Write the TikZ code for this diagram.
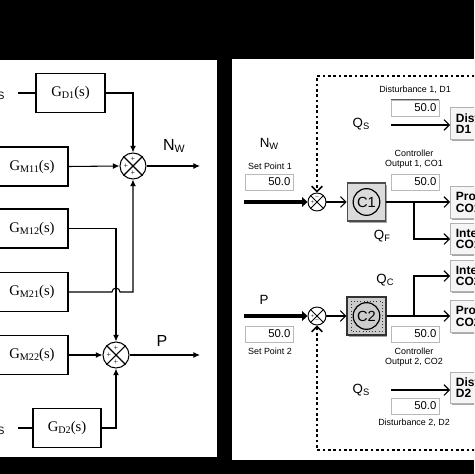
\documentclass[tikz,border=0pt]{standalone}
\usepackage{fontspec}
\setmainfont{Liberation Serif}
\setsansfont{Liberation Sans}
\usetikzlibrary{arrows.meta,shadows}
\newcommand\gsub[1]{G\raisebox{-0.35ex}{\fontsize{7.6}{8}\selectfont #1}(s)}
\newcommand\sbx[3]{#1\raisebox{-0.3ex}{\fontsize{#3}{#3}\selectfont #2}}
\begin{document}
\begin{tikzpicture}[x=0.75pt,y=-0.75pt,
  lw/.style={line width=0.8pt},
  gbox/.style={draw, line width=0.8pt, fill=white, minimum height=29.25pt, inner sep=0pt, font=\fontsize{11}{12}\selectfont},
  sumL/.style={circle, draw, line width=0.8pt, minimum size=19.5pt, inner sep=0pt},
  sumR/.style={circle, draw, line width=0.7pt, minimum size=13.5pt, inner sep=0pt},
  arrL/.style={-{Latex[length=5pt,width=4.5pt]}},
  arrR/.style={-{Straight Barb[length=4pt,width=8pt]}},
  thick arrow/.style={line width=3pt,-{Triangle[length=4pt,width=7pt]}},
  pm/.style={font=\fontsize{6}{6}\selectfont, inner sep=0pt},
  pmR/.style={font=\fontsize{5}{5}\selectfont, inner sep=0pt},
  field/.style={draw=gray!55, fill=white, minimum width=36pt, minimum height=12pt, text width=32pt, align=right, inner sep=1.5pt,
    font=\sffamily\fontsize{8.5}{9}\selectfont,
    path picture={\draw[gray!70!black,line width=1.2pt] (path picture bounding box.south west) -- (path picture bounding box.north west) -- (path picture bounding box.north east);}},
  small/.style={font=\sffamily\fontsize{6.7}{7.7}\selectfont, inner sep=0pt, align=center},
  lab/.style={font=\sffamily\fontsize{10}{10}\selectfont, inner sep=0pt},
  cbox/.style={draw=gray!60!black, line width=0.8pt, fill=gray!28, minimum width=29pt, minimum height=28.5pt,
    drop shadow={shadow xshift=1.2pt, shadow yshift=-1.2pt, fill=gray!70, opacity=1}},
  ccirc/.style={circle, draw, line width=0.9pt, minimum size=20pt, inner sep=0pt, font=\sffamily\fontsize{11}{11}\selectfont},
  pbox/.style={draw=gray!60, line width=0.8pt, fill=gray!8, minimum width=80pt, minimum height=23.5pt, text width=72pt,
    align=left, inner xsep=4pt, inner ysep=2pt, font=\sffamily\bfseries\fontsize{9}{8.5}\selectfont,
    drop shadow={shadow xshift=1.2pt, shadow yshift=-1.2pt, fill=gray!70, opacity=1}},
  dashline/.style={line width=1.1pt, dash pattern=on 2pt off 2pt}
]
\useasboundingbox (0,0) rectangle (474,474);
\fill[black] (0,0) rectangle (474,474);
\fill[white] (0,60) rectangle (217,457);
\fill[white] (232,59) rectangle (474,460);

% ---------------- left panel ----------------
\begin{scope}
\clip (0,60) rectangle (217,457);
\node[gbox, minimum width=51.75pt] (gd1) at (70.5,93) {\gsub{D1}};
\node[gbox, minimum width=54pt] (gm11) at (32,166.5) {\gsub{M11}};
\node[gbox, minimum width=54pt] (gm12) at (32,228.5) {\gsub{M12}};
\node[gbox, minimum width=54pt] (gm21) at (32,292) {\gsub{M21}};
\node[gbox, minimum width=54pt] (gm22) at (32,355) {\gsub{M22}};
\node[gbox, minimum width=51pt] (gd2) at (67,428) {\gsub{D2}};

\node[sumL] (s1) at (133,166) {};
\draw[lw] (s1.north west) -- (s1.south east) (s1.north east) -- (s1.south west);
\node[pm] (s1a) at (133,159) {+};
\node[pm] (s1b) at (126,166) {+};
\node[pm] (s1c) at (133,173) {+};

\node[sumL] (s2) at (116,355) {};
\draw[lw] (s2.north west) -- (s2.south east) (s2.north east) -- (s2.south west);
\node[pm] (s2a) at (116,348) {+};
\node[pm] (s2b) at (109,355) {+};
\node[pm] (s2c) at (116,362) {+};

\coordinate (inD1) at (18,93);
\coordinate (inD2) at (18,428);
\coordinate (outN) at (200,166);
\coordinate (outP) at (200,355);
\node[font=\sffamily\fontsize{8}{8}\selectfont, inner sep=0pt] (qs1) at (1,96) {S};
\node[font=\sffamily\fontsize{8}{8}\selectfont, inner sep=0pt] (qs2) at (1,431) {S};

\draw[lw] (inD1) -- (gd1.west);
\draw[lw] (inD2) -- (gd2.west);
\draw[lw, arrL] (gd1.east) -| (s1.north);
\draw[lw, arrL] (gm11.east) -- (s1.west);
\draw[lw, arrL] (s1.east) -- (outN);
\draw[lw, arrL] (gm12.east) -| (s2.north);
\draw[lw, arrL] (gm21.east) -- (112,292) arc[start angle=180,end angle=360,radius=4] -| (s1.south);
\draw[lw, arrL] (gm22.east) -- (s2.west);
\draw[lw, arrL] (gd2.east) -| (s2.south);
\draw[lw, arrL] (s2.east) -- (outP);

\node[font=\sffamily\fontsize{12}{12}\selectfont, inner sep=0pt] (nwL) at (174,146) {\sbx{N}{W}{8}};
\node[font=\sffamily\fontsize{12}{12}\selectfont, inner sep=0pt] (pL) at (162,341) {P};
\end{scope}

% ---------------- right panel ----------------
\begin{scope}
\clip (232,59) rectangle (474,460);
\coordinate (dtop) at (480,76);
\coordinate (dbot) at (480,450);
\coordinate (sp1in) at (244,202);
\coordinate (sp2in) at (244,316);
\coordinate (qsin1) at (391,125);
\coordinate (qsin2) at (391,390);

\node[lab] (nwR) at (269,144) {\sbx{N}{W}{7}};
\node[small] (sp1lab) at (270,166) {Set Point 1};
\node[field] (sp1) at (269,182) {50.0};
\node[sumR] (r1) at (317,202) {};
\draw[line width=0.7pt] (r1.north west) -- (r1.south east) (r1.north east) -- (r1.south west);
\node[pmR] (r1p) at (312.5,202.5) {+};
\node[pmR] (r1m) at (317,197.5) {--};

\node[lab] (pR) at (264,300) {P};
\node[field] (sp2) at (269,334) {50.0};
\node[small] (sp2lab) at (270,351) {Set Point 2};
\node[sumR] (r2) at (317,316) {};
\draw[line width=0.7pt] (r2.north west) -- (r2.south east) (r2.north east) -- (r2.south west);
\node[pmR] (r2p) at (312.5,316.5) {+};
\node[pmR] (r2m) at (317,321) {--};

\node[cbox] (c1) at (366.5,202) {};
\node[ccirc] (c1c) at (366.5,202) {C1};
\node[cbox, draw=gray!40!black, line width=1.3pt, fill=gray!40] (c2) at (366.5,316) {};
\draw[dotted, gray!40!black] (351,301) rectangle (382,331);
\node[ccirc, fill=gray!40] (c2c) at (366.5,316) {C2};

\node[small] (d1lab) at (415,90) {Disturbance 1, D1};
\node[field] (d1) at (415,108) {50.0};
\node[lab] (qs1R) at (361,124) {\sbx{Q}{S}{7}};
\node[small] (co1lab) at (414,159.5) {Controller\\Output 1, CO1};
\node[field] (co1) at (415,182) {50.0};
\node[lab] (qfR) at (382,236) {\sbx{Q}{F}{7}};
\node[lab] (qcR) at (385,280) {\sbx{Q}{C}{7}};
\node[field] (co2) at (415,334) {50.0};
\node[small] (co2lab) at (414,357) {Controller\\Output 2, CO2};
\node[lab] (qs2R) at (361,390) {\sbx{Q}{S}{7}};
\node[field] (d2) at (415,406) {50.0};
\node[small] (d2lab) at (414,423) {Disturbance 2, D2};

\node[pbox, anchor=west] (bd1) at (450,123.5) {Disturbance\\D1 to PV1};
\node[pbox, anchor=west] (bp1) at (450,202.5) {Process\\CO1 to PV1};
\node[pbox, anchor=west] (bi1) at (450,239) {Interaction\\CO1 to PV2};
\node[pbox, anchor=west] (bi2) at (450,276) {Interaction\\CO2 to PV1};
\node[pbox, anchor=west] (bp2) at (450,316.5) {Process\\CO2 to PV2};
\node[pbox, anchor=west] (bd2) at (450,388) {Disturbance\\D2 to PV2};

\draw[thick arrow] (sp1in) -- (r1.west);
\draw[thick arrow] (sp2in) -- (r2.west);
\draw[line width=0.8pt, arrR] (r1.east) -- (c1.west);
\draw[line width=0.8pt, arrR] (r2.east) -- (c2.west);
\draw[line width=0.8pt, arrR] (c1.east) -- (bp1.west |- c1.east);
\draw[line width=0.8pt, arrR] (414,202) |- (bi1.west);
\draw[line width=0.8pt, arrR] (c2.east) -- (bp2.west |- c2.east);
\draw[line width=0.8pt, arrR] (414,316) |- (bi2.west);
\draw[line width=0.8pt, arrR] (qsin1) -- (bd1.west |- qsin1);
\draw[line width=0.8pt, arrR] (qsin2) -- (bd2.west |- qsin2);
\draw[dashline, arrR] (dtop) -| (r1.north);
\draw[dashline, arrR] (dbot) -| (r2.south);
\end{scope}
\end{tikzpicture}
\end{document}
